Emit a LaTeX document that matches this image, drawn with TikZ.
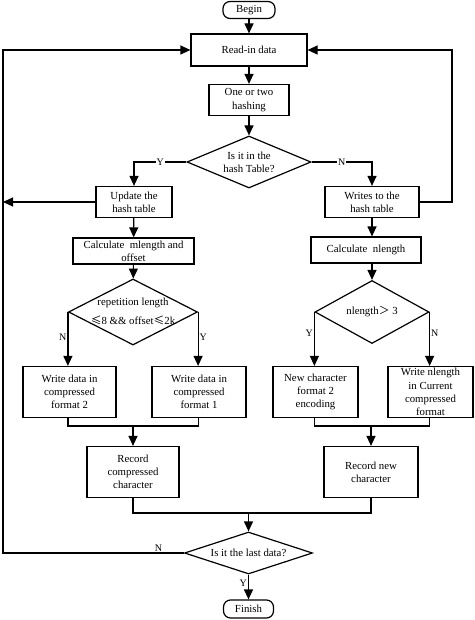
\documentclass[tikz,border=0pt]{standalone}
\usepackage{fontspec}
\setmainfont{Liberation Serif}
\newfontfamily\cjk{Noto Sans CJK SC}
\usetikzlibrary{arrows.meta,shapes.geometric}

\begin{document}
\begin{tikzpicture}[x=1pt,y=-1pt,>={Triangle[length=10pt,width=9pt]},line width=1.2pt,
    box/.style={draw,rectangle,align=center,inner sep=0pt,font=\fontsize{10.8}{13.3}\selectfont},
    terminal/.style={draw,rectangle,rounded corners=7pt,minimum width=52pt,minimum height=17pt,inner sep=0pt,font=\fontsize{10.8}{13}\selectfont},
    decision/.style={draw,diamond,aspect=2.6,inner sep=0pt,align=center,font=\fontsize{10.8}{13.3}\selectfont},
    yn/.style={font=\fontsize{10}{11}\selectfont,inner sep=1pt}]
        \useasboundingbox (0,0) rectangle (474,620);
        \node[terminal](begin)at(249, 10){Begin};
        \node[box,minimum width=116pt,minimum height=32pt](read)at(249, 50){Read-in data};
        \node[box,minimum width=80pt,minimum height=31pt](hash)at(249, 100){One or two\\hashing};
        \node[decision,minimum width=124pt,minimum height=52pt](inq)at(249, 162){Is it in the\\hash Table?};
        \node[box,minimum width=76pt,minimum height=31pt](upd)at(134, 202){Update the\\hash table};
        \node[box,minimum width=94pt,minimum height=31pt](wrt)at(372, 202){Writes to the\\hash table};
        \node[box,minimum width=121pt,minimum height=26pt](calcm)at(133.5, 251){Calculate~ mlength and\\offset};
        \node[decision,minimum width=129pt,minimum height=66pt](rep)at(133, 312){};
        \node[align=center,font=\fontsize{10.8}{13.3}\selectfont](reptxt)at(133, 311){repetition length\\[5.5pt]{\cjk ≤}8 \&\& offset{\cjk ≤}2k};
        \node[box,minimum width=110pt,minimum height=26pt](calcn)at(366, 250){Calculate~ nlength};
        \node[decision,minimum width=114pt,minimum height=63pt](nl)at(372, 312){nlength{\cjk ＞} 3};
        \node[box,minimum width=93pt,minimum height=51pt](fmt2)at(69.5, 392){Write data in\\compressed\\format 2};
        \node[box,minimum width=94pt,minimum height=51pt](fmt1)at(199, 392){Write data in\\compressed\\format 1};
        \node[box,minimum width=85pt,minimum height=51pt](newc)at(315.5, 392){New character\\format 2\\encoding};
        \node[box,minimum width=85pt,minimum height=51pt](wnl)at(430.5, 392){Write nlength\\in Current\\compressed\\format};
        \node[box,minimum width=92pt,minimum height=51pt](recc)at(133, 472){Record\\compressed\\character};
        \node[box,minimum width=94pt,minimum height=51pt](recn)at(371, 472){Record new\\character};
        \node[decision,minimum width=128pt,minimum height=42pt](last)at(248.5, 553){Is it the last data?};
        \node[terminal,minimum width=50pt,minimum height=18pt](fin)at(248.5, 609){Finish};
        \coordinate(jl)at(133, 426);
        \coordinate(jr)at(371, 426);
        \coordinate(jb)at(248.5, 513);
        \coordinate(lb)at(3, 553);
        \coordinate(lm)at(3, 202);
        \coordinate(lt)at(3, 50);
        \coordinate(rb)at(452, 202);
        \coordinate(rt)at(452, 50);
        \draw[->](begin) -- (read);
        \draw[->](read) -- (hash);
        \draw[->](hash) -- (inq);
        \draw[->](inq.west) -| node[yn,fill=white,pos=.25]{Y} (upd.north);
        \draw[->](inq.east) -| node[yn,fill=white,pos=.25]{N} (wrt.north);
        \draw[->](upd) -- (calcm);
        \draw[->](calcm) -- (rep);
        \draw[->](rep.west) -- node[yn,left,pos=.46]{N} (rep.west |- fmt2.north);
        \draw[->](rep.east) -- node[yn,right,pos=.46]{Y} (rep.east |- fmt1.north);
        \draw[->](wrt) -- (wrt |- calcn.north);
        \draw[->](nl |- calcn.south) -- (nl);
        \draw[->](nl.west) -- node[yn,left,pos=.4]{Y} (nl.west |- newc.north);
        \draw[->](nl.east) -- node[yn,right,pos=.4]{N} (nl.east |- wnl.north);
        \draw(rep.west |- fmt2.south) |- (jl) -| (rep.east |- fmt1.south);
        \draw(nl.west |- newc.south) |- (jr) -| (nl.east |- wnl.south);
        \draw[->](jl) -- (recc);
        \draw[->](jr) -- (recn);
        \draw(recc.south) |- (jb) -| (recn.south);
        \draw[->](jb) -- (last);
        \draw[->](last) -- node[yn,left,pos=.35]{Y} (fin);
        \draw[->](last.west) -- node[yn,above,pos=.14]{N} (lb) -- (lt) -- (read.west);
        \draw[->](upd.west) -- (lm);
        \draw[->](wrt.east) -- (rb) -- (rt) -- (read.east);
    \end{tikzpicture}
\end{document}
